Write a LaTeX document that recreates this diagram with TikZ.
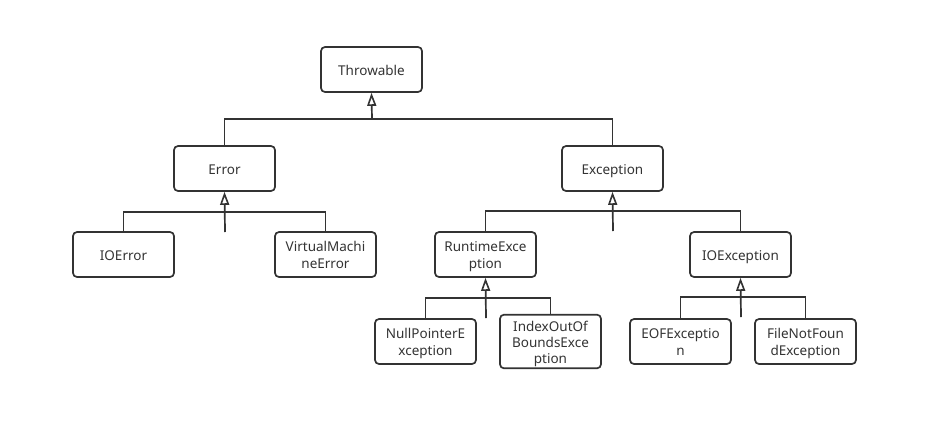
\documentclass[tikz,border=0pt]{standalone}
\usepackage{fontspec}
\setmainfont{Noto Sans}
\usetikzlibrary{arrows.meta}
\definecolor{ink}{HTML}{333333}
\newcommand\clstext[1]{\begin{tabular}{@{}c@{}}\rule{0pt}{16.8pt}#1\end{tabular}}
\begin{document}
\begin{tikzpicture}[x=1pt,y=-1pt,
  cls/.style={draw=ink, line width=1.7pt, rounded corners=4pt, minimum width=101pt, minimum height=45pt,
    inner sep=0pt, text=ink, font=\fontsize{13.5}{16.8}\selectfont},
  link/.style={draw=ink, line width=1.7pt},
  inh/.style={link, -{Triangle[open, length=13pt, width=9pt, line width=1.6pt]}}]
\useasboundingbox (0,0) rectangle (942,421);
\node[cls] (thr) at (371.5,69.5) {\clstext{Throwable}};
\node[cls] (err) at (224.5,168.5) {\clstext{Error}};
\node[cls] (exc) at (612.5,168.5) {\clstext{Exception}};
\node[cls] (ioe) at (123.5,254.5) {\clstext{IOError}};
\node[cls] (vme) at (325.5,254.5) {\clstext{VirtualMachi\\neError}};
\node[cls] (rte) at (485.5,254.5) {\clstext{RuntimeExce\\ption}};
\node[cls] (iox) at (740.5,254.5) {\clstext{IOException}};
\node[cls] (npe) at (425.5,341.5) {\clstext{NullPointerE\\xception}};
\node[cls, font=\fontsize{13.5}{16}\selectfont] (ioob) at (550.5,341.5) {\clstext{IndexOutOf\\BoundsExce\\ption}};
\node[cls] (eof) at (680.5,341.5) {\clstext{EOFExceptio\\n}};
\node[cls] (fnf) at (805.5,341.5) {\clstext{FileNotFoun\\dException}};
% Throwable
\coordinate (tb) at (372,119);
\draw[link] (err.north) |- (tb) -| (exc.north);
\draw[inh] (tb) -- (thr.south);
% Error
\coordinate (eb) at (225,212);
\coordinate (es) at (225,232);
\draw[link] (ioe.north) |- (eb) -| (vme.north);
\draw[inh] (es) -- (err.south);
% Exception
\coordinate (xb) at (613,211);
\coordinate (xs) at (613,231);
\draw[link] (rte.north) |- (xb) -| (iox.north);
\draw[inh] (xs) -- (exc.south);
% RuntimeException
\coordinate (rb) at (486,298);
\coordinate (rs) at (486,318);
\draw[link] (npe.north) |- (rb) -| (ioob.north);
\draw[inh] (rs) -- (rte.south);
% IOException
\coordinate (ib) at (741,297);
\coordinate (is) at (741,317);
\draw[link] (eof.north) |- (ib) -| (fnf.north);
\draw[inh] (is) -- (iox.south);
\end{tikzpicture}
\end{document}
